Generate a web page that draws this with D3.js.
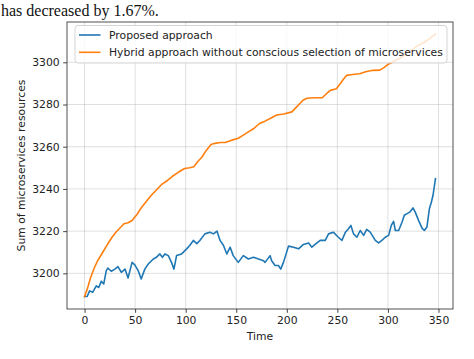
<!DOCTYPE html>
<html>
<head>
<meta charset="utf-8">
<script src="https://cdn.jsdelivr.net/npm/d3@7"></script>
<style>
  html, body { margin: 0; padding: 0; background: #fff; }
  svg { display: block; }
</style>
</head>
<body>
<svg id="chart" width="474" height="359"></svg>
<script>
// ---- data ----
const seriesNames = ["Proposed approach", "Hybrid approach without conscious selection of microservices"];

const proposedTime = [0, 2.6, 5, 8, 11.6, 14, 16.5, 19, 21.5, 23, 26.5, 30, 33, 36.4, 40, 43, 47, 49.7, 53, 56, 59.6, 63, 68, 71, 74.5, 77, 79.5, 82.8, 86, 88.4, 91, 96, 101, 104, 107.6, 111, 114, 119, 124, 127.5, 131, 134, 137.4, 140.7, 144, 147, 152, 157, 162, 167, 172, 177, 178.5, 183.5, 185, 188.4, 191.7, 194, 196.7, 201.7, 206.6, 211.6, 216.5, 221.5, 224.8, 228, 233, 238, 241.3, 246, 251, 254.5, 258, 261, 263.4, 266, 269.3, 272.6, 276, 279, 282.5, 287.5, 290.8, 294, 297.4, 300.7, 303.3, 305.6, 307.3, 310.6, 314, 316.2, 319, 321.5, 324.8, 327, 330.4, 333.7, 336, 338.6, 341, 343, 344.6, 347];
const proposedValues = [3189, 3189, 3191.7, 3191, 3194.1, 3193.3, 3196.2, 3195, 3201.3, 3202.5, 3201, 3202, 3203.2, 3200.5, 3202, 3197.8, 3205.2, 3204, 3201.3, 3197.3, 3202, 3204.4, 3206.8, 3207.6, 3209.2, 3207.6, 3209.2, 3208.4, 3205.2, 3202, 3208.4, 3209.2, 3211.6, 3213.2, 3215.6, 3214, 3215.6, 3218.7, 3219.5, 3218.7, 3220, 3215.6, 3213.2, 3209.2, 3212.4, 3208.4, 3205.2, 3208.4, 3206.8, 3207.6, 3206.8, 3206, 3205.2, 3208.4, 3206, 3203.7, 3203.7, 3202, 3205.2, 3212.9, 3212.4, 3211.6, 3213.7, 3214.4, 3212.4, 3213.7, 3215.6, 3215.6, 3218.7, 3219.5, 3217.1, 3215.6, 3219.5, 3221.1, 3222.7, 3218.7, 3217.1, 3220.3, 3218, 3220.8, 3219.5, 3215.6, 3214.4, 3215.6, 3217.1, 3218, 3222.7, 3224.6, 3220.3, 3220.3, 3224.3, 3227.5, 3228.3, 3229, 3231, 3229, 3225, 3221.4, 3220.3, 3222, 3230.6, 3233.8, 3237, 3244.9];

const hybridTime = [0, 3, 6, 10, 13, 18, 23, 27, 31, 35, 39, 43, 47, 52, 56, 61, 66, 71, 76, 82, 87, 93, 99, 104, 108, 112, 116, 120, 125, 129, 134, 139, 145, 152, 157, 162, 167, 173, 178, 184, 190, 197, 205, 210, 216, 220, 223, 229, 235, 239, 243, 249, 253, 256, 259, 265, 272, 278, 285, 292, 296, 300, 306, 312, 318, 324, 330, 336, 342, 347];
const hybridValues = [3189, 3193, 3198, 3203, 3206, 3210, 3214, 3217, 3219.5, 3221.5, 3223.5, 3224, 3225, 3228, 3231, 3234, 3237, 3239.5, 3242, 3244, 3246, 3248, 3249.7, 3250, 3250.5, 3253, 3255, 3258, 3261, 3261.6, 3262, 3262, 3263, 3264, 3265.5, 3267, 3268.5, 3271, 3272, 3273.5, 3275, 3275.5, 3276.5, 3279, 3282, 3283, 3283.1, 3283.2, 3283.2, 3285, 3286.7, 3287.5, 3290, 3292, 3293.8, 3294.2, 3294.6, 3295.5, 3296.2, 3296.3, 3297.5, 3299, 3300.5, 3302, 3304, 3306, 3308, 3309.5, 3311.5, 3313.5];

const xTicks = [0, 50, 100, 150, 200, 250, 300, 350];
const yTicks = [3200, 3220, 3240, 3260, 3280, 3300];
const xDomain = [-17.35, 364.35];
const yDomain = [3183.1, 3319.1];

// ---- layout ----
const svg = d3.select("#chart");
const L = 67, R = 453, T = 22, B = 309;
const font = "'DejaVu Sans', sans-serif";
const fs = 10.8;
const colors = ["#1f77b4", "#ff7f0e"];

// surrounding page text
svg.append("text").attr("x", 1).attr("y", 16)
  .attr("font-family", "'Liberation Serif', 'Times New Roman', serif")
  .attr("font-size", 16).attr("fill", "#111")
  .text("has decreased by 1.67%.");

const x = d3.scaleLinear().domain(xDomain).range([L, R]);
const y = d3.scaleLinear().domain(yDomain).range([B, T]);

// grid
const grid = svg.append("g");
grid.selectAll(".gx").data(xTicks).join("line")
  .attr("x1", d => x(d)).attr("x2", d => x(d)).attr("y1", T).attr("y2", B)
  .attr("stroke", "#b0b0b0").attr("stroke-opacity", 0.45).attr("stroke-width", 0.9);
grid.selectAll(".gy").data(yTicks).join("line")
  .attr("y1", d => y(d)).attr("y2", d => y(d)).attr("x1", L).attr("x2", R)
  .attr("stroke", "#b0b0b0").attr("stroke-opacity", 0.45).attr("stroke-width", 0.9);

// lines
svg.append("clipPath").attr("id", "clip").append("rect")
  .attr("x", L).attr("y", T).attr("width", R - L).attr("height", B - T);
const line = d3.line().x(d => x(d[0])).y(d => y(d[1]));
const series = [
  d3.zip(proposedTime, proposedValues),
  d3.zip(hybridTime, hybridValues)
];
series.forEach((s, i) => {
  svg.append("path").datum(s)
    .attr("d", line).attr("fill", "none")
    .attr("stroke", colors[i]).attr("stroke-width", 1.6)
    .attr("stroke-linejoin", "round").attr("stroke-linecap", "square")
    .attr("clip-path", "url(#clip)");
});

// axes
const xAxis = d3.axisBottom(x).tickValues(xTicks).tickSize(3.8).tickPadding(3.5).tickFormat(d3.format("d"));
const yAxis = d3.axisLeft(y).tickValues(yTicks).tickSize(3.8).tickPadding(3.5).tickFormat(d3.format("d"));
const gx = svg.append("g").attr("transform", `translate(0,${B})`).call(xAxis);
const gy = svg.append("g").attr("transform", `translate(${L},0)`).call(yAxis);
[gx, gy].forEach(g => {
  g.select(".domain").remove();
  g.selectAll("line").attr("stroke", "#222").attr("stroke-width", 0.85);
  g.selectAll("text").attr("font-family", font).attr("font-size", fs).attr("fill", "#222");
});

// frame
svg.append("rect").attr("x", L).attr("y", T).attr("width", R - L).attr("height", B - T)
  .attr("fill", "none").attr("stroke", "#333").attr("stroke-width", 0.85);

// axis labels
svg.append("text").attr("x", (L + R) / 2).attr("y", 340).attr("text-anchor", "middle")
  .attr("font-family", font).attr("font-size", fs).attr("fill", "#222").text("Time");
svg.append("text").attr("transform", `translate(25,${(T + B) / 2}) rotate(-90)`)
  .attr("text-anchor", "middle")
  .attr("font-family", font).attr("font-size", fs).attr("fill", "#222")
  .text("Sum of microservices resources");

// legend
const lg = svg.append("g");
lg.append("rect").attr("x", 75).attr("y", 25.5).attr("width", 372).attr("height", 37.5)
  .attr("rx", 3).attr("fill", "#fff").attr("fill-opacity", 0.8)
  .attr("stroke", "#cccccc").attr("stroke-width", 0.85);
seriesNames.forEach((name, i) => {
  const cy = 35 + i * 17.3;
  lg.append("line").attr("x1", 79).attr("x2", 100.5).attr("y1", cy).attr("y2", cy)
    .attr("stroke", colors[i]).attr("stroke-width", 1.6);
  lg.append("text").attr("x", 109).attr("y", cy).attr("dy", "0.36em")
    .attr("font-family", font).attr("font-size", fs).attr("fill", "#222").text(name);
});
</script>
</body>
</html>
